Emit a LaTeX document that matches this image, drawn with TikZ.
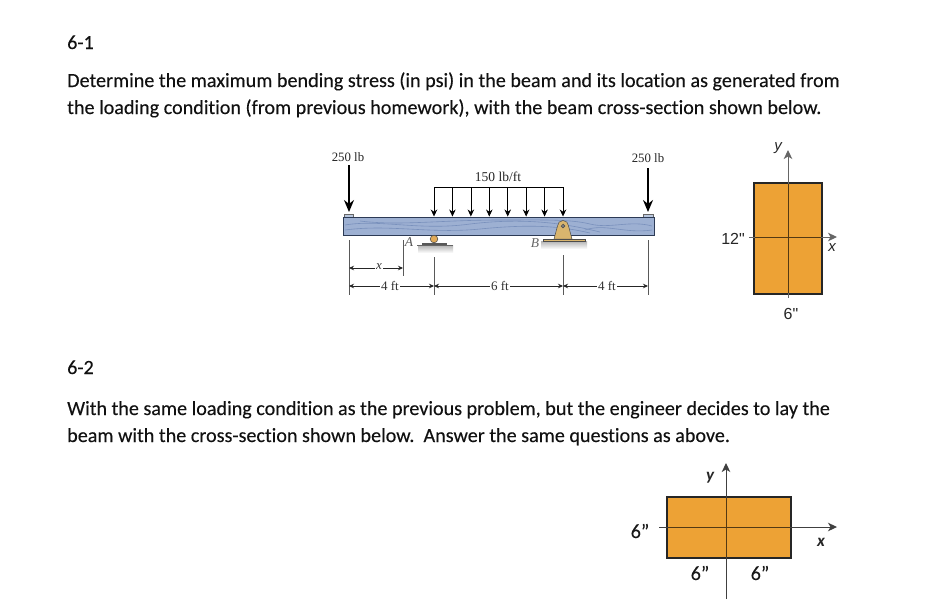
\documentclass[tikz,border=0pt]{standalone}
\usepackage{fontspec}
\setmainfont{Carlito}
\newfontfamily\parafont[FakeBold=0.18,Ligatures=NoCommon]{Carlito}
\newfontfamily\armfont{Liberation Sans}
\newfontfamily\figfont{Liberation Serif}
\usetikzlibrary{arrows.meta}
\definecolor{wood}{HTML}{9DB0D2}
\definecolor{grain}{HTML}{7990BC}
\definecolor{beamedge}{HTML}{2C3A55}
\definecolor{orangefill}{HTML}{EDA235}
\definecolor{pinfill}{HTML}{D9B56E}
\definecolor{ink}{HTML}{111111}
\tikzset{
  para/.style={anchor=base west,inner sep=0,font=\parafont\fontsize{20.13}{21}\selectfont,text=ink},
  figlabel/.style={inner sep=0,font=\figfont\fontsize{12.8}{13}\selectfont,text=black!85},
  dimlabel/.style={inner sep=1.5pt,fill=white,font=\figfont\fontsize{13}{14}\selectfont,text=black!80},
  seclabel/.style={inner sep=0,font=\armfont\fontsize{16}{17}\selectfont,text=black!85},
  seclabelb/.style={inner sep=0,font=\parafont\fontsize{20}{21}\selectfont,text=black!90},
  varlabel/.style={inner sep=0,font=\armfont\itshape\fontsize{15}{16}\selectfont,text=black!85},
  varlabelb/.style={inner sep=0,font=\fontsize{17}{18}\selectfont\bfseries\itshape,text=black!85},
  extline/.style={draw=black!65,line width=1pt},
  dimline/.style={draw=black!85,line width=0.7pt,{Stealth[length=5pt,width=4.5pt]}-{Stealth[length=5pt,width=4.5pt]}},
  load/.style={draw=black,line width=1.7pt,-{Stealth[length=12pt,width=10pt]}},
  dist/.style={draw=black,line width=0.7pt,-{Stealth[length=7pt,width=6.5pt]}},
  sectionbox/.style={draw=black!85,line width=2pt,fill=orangefill},
  axisline/.style={draw=black!60,line width=1pt,-{Stealth[length=9pt,width=8.5pt,inset=2.5pt]}},
  crossline/.style={draw=black!65!orangefill,line width=1pt},
  grainline/.style={draw=grain,line width=0.6pt},
  pad/.style={draw=black!60,line width=0.5pt,fill=wood!70}
}
\begin{document}
\begin{tikzpicture}[x=1pt,y=-1pt]
\useasboundingbox (0,0) rectangle (925,611);
\fill[white] (0,0) rectangle (925,611);

% Text
\node[para] (t1) at (67,49) {6-1};
\node[para] (t2) at (67,87) {Determine the maximum bending stress (in psi) in the beam and its location as generated from};
\node[para] (t3) at (67,114) {the loading condition (from previous homework), with the beam cross-section shown below.};
\node[para] (t4) at (67,374) {6-2};
\node[para] (t5) at (67,415) {With the same loading condition as the previous problem, but the engineer decides to lay the};
\node[para] (t6) at (67,442) {beam with the cross-section shown below.\ \ Answer the same questions as above.};

% Beam
\draw[pad] (344,214) rectangle (353,217);
\draw[pad] (643,214) rectangle (653,217);
\fill[wood] (343,217) rectangle (654,235);
\draw[grainline] (345,225) .. controls (380,219) and (420,231) .. (470,224) .. controls (520,218) and (560,222) .. (600,232);
\draw[grainline] (345,230) .. controls (390,224) and (430,234) .. (480,229) .. controls (530,224) and (560,226) .. (590,233);
\draw[grainline] (360,221) .. controls (400,226) and (440,220) .. (500,220) .. controls (540,220) and (570,219) .. (590,224) .. controls (610,229) and (630,220) .. (652,226);
\draw[grainline] (585,230) .. controls (605,223) and (625,234) .. (652,230);
\draw[draw=beamedge,line width=0.8pt] (343,217) rectangle (654,235);

% Roller support A
\shade[top color=black!30,bottom color=white] (418,245) rectangle (453,253);
\draw[black!60,line width=0.8pt] (417,245) -- (453,245);
\fill[black!65] (422,243) rectangle (447,245);
\draw[black!70,fill=pinfill!80!orange,line width=0.6pt] (434,239) circle (3.8);

% Pin support B
\shade[top color=black!30,bottom color=white] (541,241) rectangle (587,249);
\draw[black!70,fill=pinfill,line width=0.5pt] (554,239) -- (557.5,226) arc[start angle=180,end angle=360,radius=5.5] -- (572,239) -- cycle;
\draw[black!70,fill=white,line width=0.8pt] (563,226) circle (1.7);
\fill[black!70] (563,226) circle (0.8);
\draw[black!70,fill=pinfill,line width=0.5pt] (543,239) rectangle (585,241);

% Concentrated loads
\coordinate (la0) at (349,165);
\coordinate (la1) at (349,212);
\coordinate (lb0) at (648,168);
\coordinate (lb1) at (648,212);
\draw[load] (la0) -- (la1);
\draw[load] (lb0) -- (lb1);
\node[figlabel] (l250a) at (348,157) {250 lb};
\node[figlabel] (l250b) at (648,158) {250 lb};

% Distributed load
\node[figlabel,font=\figfont\fontsize{13.5}{14}\selectfont] (l150) at (498,177) {150 lb/ft};
\coordinate (dl) at (434,187);
\coordinate (dr) at (563,187);
\draw[black,line width=0.7pt] (dl) -- (dr);
\foreach \i in {0,...,7}{
  \coordinate (da\i) at ({434+\i*129/7},187);
  \coordinate (db\i) at ({434+\i*129/7},216.5);
  \draw[dist] (da\i) -- (db\i);
}

% Dimensions
\coordinate (e1a) at (349,240); \coordinate (e1b) at (349,295);
\coordinate (e2a) at (403,240); \coordinate (e2b) at (403,276);
\coordinate (e3a) at (434,257); \coordinate (e3b) at (434,295);
\coordinate (e4a) at (563,255); \coordinate (e4b) at (563,295);
\coordinate (e5a) at (648,240); \coordinate (e5b) at (648,295);
\foreach \n in {1,...,5}{\draw[extline] (e\n a) -- (e\n b);}
\coordinate (d1) at (349,286); \coordinate (d2) at (434,286);
\coordinate (d3) at (563,286); \coordinate (d4) at (648,286);
\coordinate (dxa) at (349,268); \coordinate (dxb) at (403,268);
\draw[dimline] (d1) -- (d2);
\draw[dimline] (d2) -- (d3);
\draw[dimline] (d3) -- (d4);
\draw[dimline] (dxa) -- (dxb);
\node[dimlabel] (d4a) at (390,286) {4 ft};
\node[dimlabel] (d6) at (500,286) {6 ft};
\node[dimlabel] (d4b) at (607,286) {4 ft};
\node[dimlabel,font=\figfont\itshape\fontsize{13}{14}\selectfont] (dx) at (379,267) {x};
\node[inner sep=0,font=\figfont\itshape\fontsize{13.5}{14}\selectfont,text=black!65] (lA) at (409,242) {A};
\node[inner sep=0,font=\figfont\itshape\fontsize{13.5}{14}\selectfont,text=black!60] (lB) at (535,243) {B};

% Section 1
\draw[sectionbox] (754,183) rectangle (822,294);
\coordinate (v1a) at (788,298); \coordinate (v1b) at (788,150);
\coordinate (h1a) at (749,237); \coordinate (h1b) at (837,237);
\draw[axisline] (v1a) -- (v1b);
\draw[axisline] (h1a) -- (h1b);
\draw[crossline] (788,184) -- (788,293);
\draw[crossline] (755,237) -- (821,237);
\node[varlabel] (y1) at (778,148) {y};
\node[varlabel] (x1) at (832,248) {x};
\node[seclabel] (s12) at (733,239) {12"};
\node[seclabel] (s6) at (791,314) {6"};

% Section 2
\draw[sectionbox] (667,497) rectangle (791,558);
\coordinate (v2a) at (726,599); \coordinate (v2b) at (726,463);
\coordinate (h2a) at (659,527); \coordinate (h2b) at (837,527);
\draw[axisline,draw=black!75] (v2a) -- (v2b);
\draw[axisline,draw=black!75] (h2a) -- (h2b);
\draw[crossline] (726,498) -- (726,557);
\draw[crossline] (668,527) -- (790,527);
\node[varlabelb] (y2) at (710,478) {y};
\node[varlabelb] (x2) at (821,542) {x};
\node[seclabelb] (a6) at (640,531) {6”};
\node[seclabelb] (b6) at (700,573) {6”};
\node[seclabelb] (c6) at (760,573) {6”};
\end{tikzpicture}
\end{document}
